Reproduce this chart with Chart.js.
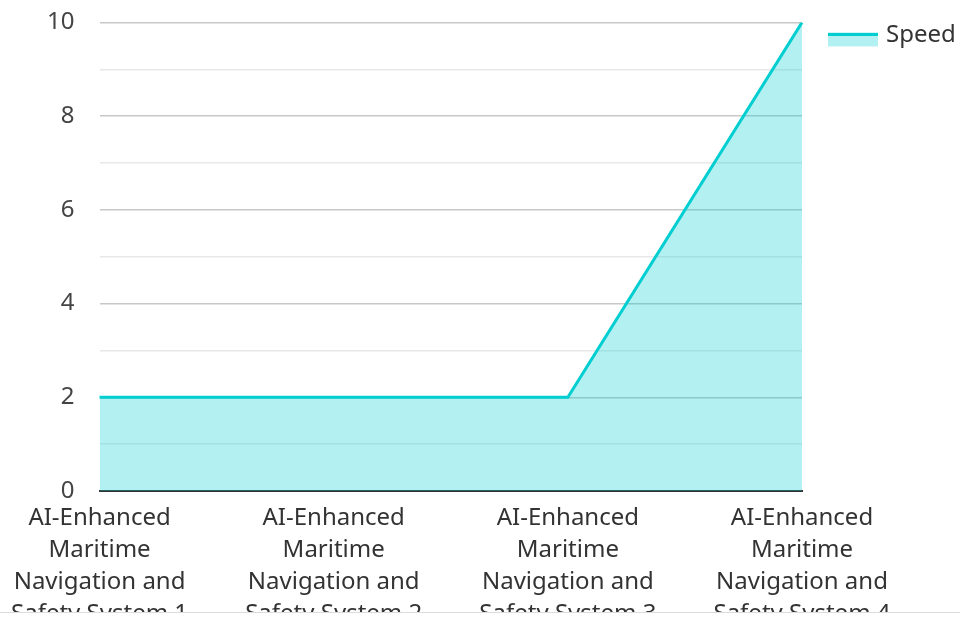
<!DOCTYPE html>
<html>
<head>
<meta charset="utf-8">
<script src="https://cdn.jsdelivr.net/npm/chart.js@4.4.0/dist/chart.umd.min.js"></script>
<style>
    html, body { margin: 0; padding: 0; background: #fff; }
    .wrap { width: 960px; height: 612px; overflow: hidden; border-bottom: 1px solid #dcdcdc; }
    .box { width: 960px; height: 658px; margin-top: -17px; position: relative; }
</style>
</head>
<body>
<div class="wrap"><div class="box"><canvas id="speedChart"></canvas></div></div>
<script>
// data
const categories = [
    ['AI-Enhanced', 'Maritime', 'Navigation and', 'Safety System 1'],
    ['AI-Enhanced', 'Maritime', 'Navigation and', 'Safety System 2'],
    ['AI-Enhanced', 'Maritime', 'Navigation and', 'Safety System 3'],
    ['AI-Enhanced', 'Maritime', 'Navigation and', 'Safety System 4']
];
const speedValues = [2, 2, 2, 10];
const yTicks = [0, 2, 4, 6, 8, 10];
const seriesName = 'Speed';

const fontFamily = '"Noto Sans", "Open Sans", sans-serif';
const lineColor = '#00CED1';
const fillColor = 'rgba(0, 206, 209, 0.3)';

// legend drawn by hand so it sits where the original one does
const sideLegend = {
    id: 'sideLegend',
    afterDraw(chart) {
        const c = chart.ctx;
        const x = chart.chartArea.right + 26;
        const y = chart.chartArea.top + 10;
        c.save();
        c.fillStyle = fillColor;
        c.fillRect(x, y, 50, 14);
        c.strokeStyle = lineColor;
        c.lineWidth = 3;
        c.beginPath();
        c.moveTo(x, y + 2);
        c.lineTo(x + 50, y + 2);
        c.stroke();
        c.fillStyle = '#333';
        c.font = '24px ' + fontFamily;
        c.textBaseline = 'middle';
        c.fillText(seriesName, x + 58, y + 3);
        c.restore();
    }
};

const ctx = document.getElementById('speedChart').getContext('2d');
new Chart(ctx, {
    type: 'line',
    data: {
        labels: categories,
        datasets: [{
            label: seriesName,
            data: speedValues,
            borderColor: lineColor,
            backgroundColor: fillColor,
            borderWidth: 3,
            fill: true,
            tension: 0,
            pointRadius: 0,
            pointHoverRadius: 0
        }]
    },
    options: {
        responsive: true,
        maintainAspectRatio: false,
        animation: false,
        layout: { padding: { top: 0, left: 3, right: 158, bottom: 0 } },
        plugins: {
            tooltip: { enabled: false },
            legend: { display: false }
        },
        scales: {
            x: {
                offset: false,
                grid: { drawOnChartArea: false, drawTicks: false },
                border: { display: true, color: '#333', width: 2 },
                ticks: {
                    color: '#333',
                    padding: 11,
                    maxRotation: 0,
                    autoSkip: false,
                    font: { family: fontFamily, size: 24, lineHeight: 1.333 }
                }
            },
            y: {
                min: 0,
                max: 10,
                border: { display: false },
                grid: {
                    drawTicks: false,
                    lineWidth: 1.5,
                    color: c => (yTicks.includes(c.tick && c.tick.value) ? '#c8c8c8' : '#e8e8e8')
                },
                ticks: {
                    stepSize: 1,
                    padding: 25,
                    color: '#444',
                    font: { family: fontFamily, size: 24 },
                    callback: v => (yTicks.includes(v) ? v : '')
                }
            }
        }
    },
    plugins: [sideLegend]
});
</script>
</body>
</html>
